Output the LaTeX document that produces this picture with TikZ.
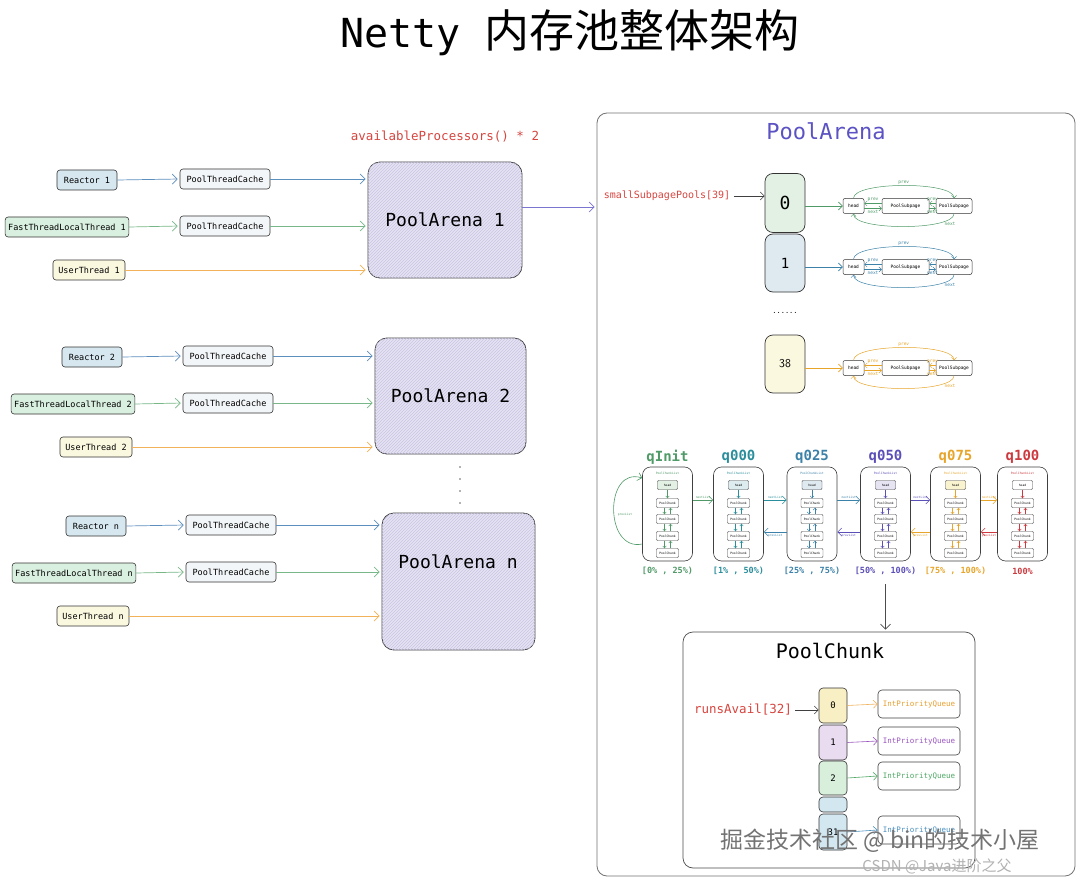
\documentclass[tikz,border=0pt]{standalone}
\usepackage{fontspec}
\setmonofont{DejaVu Sans Mono}
\newfontfamily\cjk{Noto Sans CJK SC}
\usetikzlibrary{arrows.meta,patterns}
\definecolor{cRed}{HTML}{D7453F}
\definecolor{lBlue}{HTML}{D6E7EF}
\definecolor{lGreen}{HTML}{D9EFDF}
\definecolor{lYellow}{HTML}{FBF8E0}
\definecolor{ptcF}{HTML}{F3F6F8}
\definecolor{cBlue}{HTML}{5D8FBE}
\definecolor{cGreen}{HTML}{78B888}
\definecolor{cOrange}{HTML}{F1B25A}
\definecolor{arenaF}{HTML}{E6E3F3}
\definecolor{arenaH}{HTML}{C9C4E3}
\definecolor{cPurpleT}{HTML}{5B52C4}
\definecolor{qiC}{HTML}{4F9A67}
\definecolor{qzC}{HTML}{2A8E9C}
\definecolor{qaC}{HTML}{3C82A8}
\definecolor{qbC}{HTML}{5B4FB8}
\definecolor{qcC}{HTML}{E7A52A}
\definecolor{qdC}{HTML}{CC3A3F}
\definecolor{hiF}{HTML}{E2F1E4}
\definecolor{hzF}{HTML}{DCECEF}
\definecolor{haF}{HTML}{DFE9F0}
\definecolor{hbF}{HTML}{E6E3F3}
\definecolor{hcF}{HTML}{FAF3CF}
\definecolor{hdF}{HTML}{FFFFFF}
\definecolor{kYellow}{HTML}{F8F0C4}
\definecolor{kPurple}{HTML}{EADCF0}
\definecolor{kGreen}{HTML}{D8EFDC}
\definecolor{kBlue}{HTML}{D3E7F1}
\definecolor{tPurple}{HTML}{9A55C0}
\definecolor{tGreen}{HTML}{4FA865}
\definecolor{tBlue}{HTML}{4A90C0}
\definecolor{tOrange}{HTML}{E8A030}
\tikzset{
  tbox/.style={draw=black!80, line width=0.6pt, rounded corners=3pt, minimum height=20pt,
    inner xsep=3pt, inner ysep=1pt, font=\ttfamily\fontsize{8.5}{9}\selectfont},
  arena/.style={draw=black!75, line width=0.8pt, rounded corners=12pt, fill=arenaF,
    font=\ttfamily\fontsize{18}{20}\selectfont,
    postaction={pattern=north east lines, pattern color=arenaH}},
  arr/.style={-{Straight Barb[length=5pt,width=10pt]}, line width=0.7pt, shorten >=2pt},
  sarr/.style={-{Straight Barb[length=2.5pt,width=5pt]}, line width=0.5pt},
  carr/.style={-{Straight Barb[length=2pt,width=3.5pt]}, line width=0.45pt},
  larr/.style={-{Straight Barb[length=4pt,width=8pt]}, line width=0.6pt},
  ibox/.style={draw=black!80, line width=0.7pt, rounded corners=8pt, minimum width=40pt,
    inner sep=0pt, font=\ttfamily},
  spbox/.style={draw=black!80, line width=0.5pt, rounded corners=2pt, minimum height=15pt,
    minimum width=21pt, inner sep=0pt, fill=white, font=\ttfamily\fontsize{4.5}{5}\selectfont},
  tinylbl/.style={font=\ttfamily\fontsize{4.5}{5}\selectfont, inner sep=0.5pt},
  clist/.style={draw=black!75, line width=0.6pt, rounded corners=8pt, minimum width=50pt,
    minimum height=94pt, inner sep=0pt},
  chk/.style={draw=black!75, line width=0.4pt, rounded corners=1pt, minimum width=22pt,
    minimum height=9pt, inner sep=0pt, fill=white, font=\ttfamily\fontsize{3}{3.5}\selectfont},
  microlbl/.style={font=\ttfamily\fontsize{3}{3.5}\selectfont, inner sep=0.5pt},
  kbox/.style={draw=black!80, line width=0.6pt, rounded corners=4pt, minimum width=28pt,
    inner sep=0pt, font=\ttfamily\fontsize{9}{10}\selectfont},
  qbox/.style={draw=black!75, line width=0.6pt, rounded corners=4pt, minimum width=82pt,
    minimum height=28pt, inner sep=0pt, font=\ttfamily\fontsize{7.5}{8}\selectfont},
}
\newcommand\SubRow[4]{%
  \node[spbox] (#1h) at (853.5,#2) {head};
  \node[spbox, minimum width=47pt] (#1a) at (905.5,#2) {PoolSubpage};
  \node[spbox, minimum width=36pt] (#1b) at (954,#2) {PoolSubpage};
  \draw[larr,#3] (#4.east |- #1h.west) -- (#1h.west);
  \draw[sarr,#3] ([yshift=-2.5pt]#1h.east) -- ([yshift=-2.5pt]#1a.west)
     node[midway, below=1pt, tinylbl, text=#3] {next};
  \draw[sarr,#3] ([yshift=2.5pt]#1a.west) -- ([yshift=2.5pt]#1h.east)
     node[midway, above=1pt, tinylbl, text=#3] {prev};
  \draw[sarr,#3] ([yshift=-2.5pt]#1a.east) -- ([yshift=-2.5pt]#1b.west)
     node[midway, below=1pt, tinylbl, text=#3] {next};
  \draw[sarr,#3] ([yshift=2.5pt]#1b.west) -- ([yshift=2.5pt]#1a.east)
     node[midway, above=1pt, tinylbl, text=#3] {prev};
  \draw[sarr,#3] (#1h.north) .. controls +(0,-17) and +(0,-17) .. (#1b.north)
     node[pos=0.5, above=0.5pt, tinylbl, text=#3] {prev};
  \draw[sarr,#3] (#1b.south) .. controls +(0,17) and +(0,17) .. (#1h.south)
     node[pos=0.12, below=2pt, tinylbl, text=#3] {next};
}
\newcommand\ChunkCol[6]{%
  \node[clist] (#1) at (#2,514) {};
  \node[font=\ttfamily\bfseries\fontsize{14}{15}\selectfont, text=#3] (#1t) at (#2,457) {#4};
  \node[font=\ttfamily\bfseries\fontsize{8.5}{9}\selectfont, text=#3] (#1r) at (#2,571) {#5};
  \node[microlbl, text=#3] (#1l) at (#2,473) {PoolChunkList};
  \node[chk, fill=#6, minimum width=20pt] (#1h) at (#2,485) {head};
  \node[chk] (#1c1) at (#2,503) {PoolChunk};
  \node[chk] (#1c2) at (#2,519) {PoolChunk};
  \node[chk] (#1c3) at (#2,536) {PoolChunk};
  \node[chk] (#1c4) at (#2,553) {PoolChunk};
  \draw[carr,#3] (#1h) -- (#1c1);
  \draw[carr,#3] ([xshift=-3pt]#1c1.south) -- ([xshift=-3pt]#1c2.north);
  \draw[carr,#3] ([xshift=3pt]#1c2.north) -- ([xshift=3pt]#1c1.south);
  \draw[carr,#3] ([xshift=-3pt]#1c2.south) -- ([xshift=-3pt]#1c3.north);
  \draw[carr,#3] ([xshift=3pt]#1c3.north) -- ([xshift=3pt]#1c2.south);
  \draw[carr,#3] ([xshift=-3pt]#1c3.south) -- ([xshift=-3pt]#1c4.north);
  \draw[carr,#3] ([xshift=3pt]#1c4.north) -- ([xshift=3pt]#1c3.south);
}
\begin{document}
\begin{tikzpicture}[x=1pt,y=-1pt]
\useasboundingbox[fill=white] (0,0) rectangle (1080,880);

% title
\node[inner sep=0pt] (title) at (570,33)
  {\ttfamily\fontsize{40}{44}\selectfont Netty {\cjk\fontsize{45}{48}\selectfont 内存池整体架构}};

\node[font=\ttfamily\fontsize{12.5}{13}\selectfont, text=cRed] (avail) at (445,137)
  {availableProcessors() * 2};

% ---------- group 1
\node[tbox, fill=lBlue, minimum width=60pt] (r1) at (87,180) {Reactor 1};
\node[tbox, fill=ptcF, minimum width=90pt] (p1a) at (225,179) {PoolThreadCache};
\node[tbox, fill=lGreen] (f1) at (67,227) {FastThreadLocalThread 1};
\node[tbox, fill=ptcF, minimum width=90pt] (p1b) at (225,226) {PoolThreadCache};
\node[tbox, fill=lYellow, minimum width=72pt] (u1) at (89,270) {UserThread 1};
\node[arena, minimum width=154pt, minimum height=116pt] (a1) at (445,220) {PoolArena 1};
\draw[arr,cBlue] (r1.east) -- (p1a.west);
\draw[arr,cBlue] (p1a.east) -- (p1a.east -| a1.west);
\draw[arr,cGreen] (f1.east) -- (p1b.west);
\draw[arr,cGreen] (p1b.east) -- (p1b.east -| a1.west);
\draw[arr,cOrange] (u1.east) -- (u1.east -| a1.west);

% ---------- group 2
\node[tbox, fill=lBlue, minimum width=60pt] (r2) at (92,357) {Reactor 2};
\node[tbox, fill=ptcF, minimum width=90pt] (p2a) at (228,356) {PoolThreadCache};
\node[tbox, fill=lGreen] (f2) at (73,404) {FastThreadLocalThread 2};
\node[tbox, fill=ptcF, minimum width=90pt] (p2b) at (228,403) {PoolThreadCache};
\node[tbox, fill=lYellow, minimum width=72pt] (u2) at (96,447) {UserThread 2};
\node[arena, minimum width=151pt, minimum height=116pt] (a2) at (450.5,396) {PoolArena 2};
\draw[arr,cBlue] (r2.east) -- (p2a.west);
\draw[arr,cBlue] (p2a.east) -- (p2a.east -| a2.west);
\draw[arr,cGreen] (f2.east) -- (p2b.west);
\draw[arr,cGreen] (p2b.east) -- (p2b.east -| a2.west);
\draw[arr,cOrange] (u2.east) -- (u2.east -| a2.west);

% dots
\foreach \yy in {467,479,491,503} \fill[black!60] (460,\yy) circle (0.9);

% ---------- group n
\node[tbox, fill=lBlue, minimum width=60pt] (rn) at (96,526) {Reactor n};
\node[tbox, fill=ptcF, minimum width=90pt] (pna) at (231,525) {PoolThreadCache};
\node[tbox, fill=lGreen] (fn) at (74,573) {FastThreadLocalThread n};
\node[tbox, fill=ptcF, minimum width=90pt] (pnb) at (231,572) {PoolThreadCache};
\node[tbox, fill=lYellow, minimum width=72pt] (un) at (93,616) {UserThread n};
\node[arena, minimum width=153pt, minimum height=137pt] (an) at (458.5,581.5) {};
\node[font=\ttfamily\fontsize{18}{20}\selectfont] (antext) at (458,562) {PoolArena n};
\draw[arr,cBlue] (rn.east) -- (pna.west);
\draw[arr,cBlue] (pna.east) -- (pna.east -| an.west);
\draw[arr,cGreen] (fn.east) -- (pnb.west);
\draw[arr,cGreen] (pnb.east) -- (pnb.east -| an.west);
\draw[arr,cOrange] (un.east) -- (un.east -| an.west);

% ---------- PoolArena frame
\node[draw=black!55, line width=0.8pt, rounded corners=10pt, minimum width=478pt,
  minimum height=763pt] (frame) at (836,494.5) {};
\draw[arr,cPurpleT!80] ([yshift=13pt]a1.east) -- ([yshift=13pt]a1.east -| frame.west);
\node[font=\ttfamily\fontsize{22}{24}\selectfont, text=cPurpleT] (patitle) at (826,131) {PoolArena};

\node[font=\ttfamily\fontsize{10}{11}\selectfont, text=cRed] (ssp) at (667,196) {smallSubpagePools[39]};
\node[ibox, fill=hiF, minimum height=59pt, font=\ttfamily\fontsize{18}{20}\selectfont] (b0) at (785,203) {0};
\node[ibox, fill=haF, minimum height=58pt, font=\ttfamily\fontsize{14}{16}\selectfont] (b1) at (785,263) {1};
\node[font=\ttfamily\fontsize{7}{8}\selectfont] (sdots) at (785,313) {......};
\node[ibox, fill=lYellow, minimum height=58pt, font=\sffamily\fontsize{12}{14}\selectfont] (b38) at (785,364) {38};
\draw[larr,black!75] (ssp.east) -- (b0.west |- ssp.east);

\SubRow{sa}{206}{qiC}{b0}
\SubRow{sb}{267}{qaC}{b1}
\SubRow{sc}{368}{qcC}{b38}

% ---------- chunk lists
\ChunkCol{qi}{667.5}{qiC}{qInit}{[0\% , 25\%)}{hiF}
\ChunkCol{qz}{738.5}{qzC}{q000}{[1\% , 50\%)}{hzF}
\ChunkCol{qa}{812}{qaC}{q025}{[25\% , 75\%)}{haF}
\ChunkCol{qb}{885.5}{qbC}{q050}{[50\% , 100\%)}{hbF}
\ChunkCol{qc}{955.5}{qcC}{q075}{[75\% , 100\%)}{hcF}
\ChunkCol{qd}{1022.5}{qdC}{q100}{100\%}{hdF}

% nextList arrows
\draw[larr,qiC] ([yshift=14pt]qi.east) -- ([yshift=14pt]qz.west) node[midway, above=1pt, microlbl, text=qiC] {nextList};
\draw[larr,qzC] ([yshift=14pt]qz.east) -- ([yshift=14pt]qa.west) node[midway, above=1pt, microlbl, text=qzC] {nextList};
\draw[larr,qaC] ([yshift=14pt]qa.east) -- ([yshift=14pt]qb.west) node[midway, above=1pt, microlbl, text=qaC] {nextList};
\draw[larr,qbC] ([yshift=14pt]qb.east) -- ([yshift=14pt]qc.west) node[midway, above=1pt, microlbl, text=qbC] {nextList};
\draw[larr,qcC] ([yshift=14pt]qc.east) -- ([yshift=14pt]qd.west) node[midway, above=1pt, microlbl, text=qcC] {nextList};
% prevList arrows
\draw[larr,qaC] ([yshift=-18pt]qa.west) -- ([yshift=-18pt]qz.east) node[midway, below=1pt, microlbl, text=qaC] {prevList};
\draw[larr,qbC] ([yshift=-18pt]qb.west) -- ([yshift=-18pt]qa.east) node[midway, below=1pt, microlbl, text=qbC] {prevList};
\draw[larr,qcC] ([yshift=-18pt]qc.west) -- ([yshift=-18pt]qb.east) node[midway, below=1pt, microlbl, text=qcC] {prevList};
\draw[larr,qdC] ([yshift=-18pt]qd.west) -- ([yshift=-18pt]qc.east) node[midway, below=1pt, microlbl, text=qdC] {prevList};
% qInit self loop
\draw[larr,qiC] ([yshift=-30pt]qi.west) .. controls +(-38,8) and +(-38,-12) .. ([yshift=36pt]qi.west);
\node[microlbl, text=qiC] (qiloop) at (625,515) {prevList};

% arrow to PoolChunk
\node[draw=black!70, line width=0.7pt, rounded corners=10pt, minimum width=292pt,
  minimum height=236pt] (cb) at (829,750) {};
\draw[arr,black!70] ([yshift=-6pt]qbr.south) -- (qbr.south |- cb.north);
\node[font=\ttfamily\fontsize{20}{22}\selectfont] (cbtitle) at (830,651) {PoolChunk};
\node[font=\ttfamily\fontsize{12.5}{14}\selectfont, text=cRed] (ra) at (743,710) {runsAvail[32]};

\node[kbox, fill=kYellow, minimum height=35pt] (k0) at (833,705.5) {0};
\node[kbox, fill=kPurple, minimum height=35pt] (k1) at (833,742.5) {1};
\node[kbox, fill=kGreen, minimum height=34pt] (k2) at (833,778) {2};
\node[kbox, fill=kBlue, minimum height=15pt] (kx) at (833,804.5) {};
\node[kbox, fill=kBlue, minimum height=36pt] (k31) at (833,832) {31};
\draw[larr,black!75] (ra.east) -- (k0.west |- ra.east);

\node[qbox, text=tOrange] (iq0) at (919,704) {IntPriorityQueue};
\node[qbox, text=tPurple] (iq1) at (919,741) {IntPriorityQueue};
\node[qbox, text=tGreen] (iq2) at (919,776) {IntPriorityQueue};
\node[qbox, text=tBlue] (iq31) at (919,830) {IntPriorityQueue};
\draw[larr,cOrange] (k0.east) -- (iq0.west);
\draw[larr,tPurple] (k1.east) -- (iq1.west);
\draw[larr,tGreen] (k2.east) -- (iq2.west);
\draw[larr,tBlue] (k31.east) -- (iq31.west);

% watermarks
\node[font=\cjk\fontsize{23}{25}\selectfont, text=black!55] (wm1) at (880,841) {掘金技术社区 @ bin的技术小屋};
\node[font=\cjk\fontsize{15}{17}\selectfont, text=black!30] (wm2) at (937,866) {CSDN @Java进阶之父};
\end{tikzpicture}
\end{document}
